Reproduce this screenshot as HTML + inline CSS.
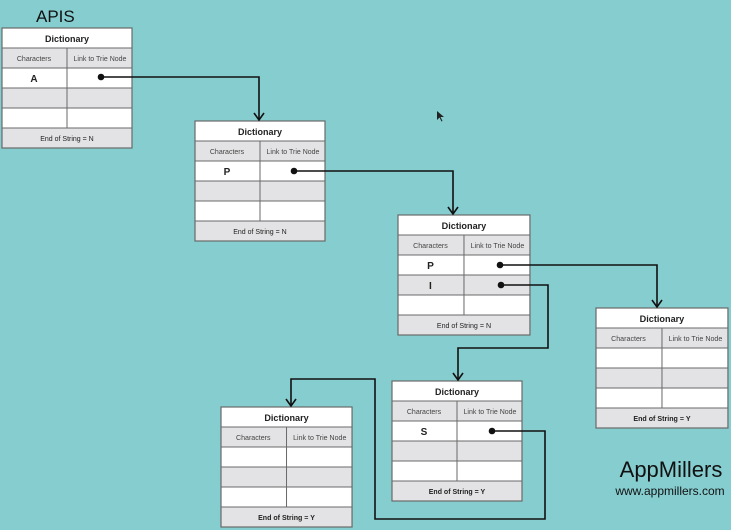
<!DOCTYPE html>
<html><head><meta charset="utf-8"><style>
html,body{margin:0;padding:0;background:#86cdd0;}
svg{display:block;font-family:"Liberation Sans",Arial,sans-serif;}
.t text{fill:#222;text-anchor:middle;}
.h{font-size:9px;font-weight:bold;}
.c{font-size:7px;fill:#444 !important;}
.ch{font-size:10px;font-weight:bold;}
.f{font-size:7px;}
.fb{font-size:7px;font-weight:bold;}
</style></head><body>
<svg width="731" height="530" viewBox="0 0 731 530">
<rect width="731" height="530" fill="#86cdd0"/>
<defs>
<g id="grid130">
<rect x="0" y="0" width="130" height="20" fill="#fff"/>
<rect x="0" y="20" width="130" height="20" fill="#e3e3e5"/>
<rect x="0" y="40" width="130" height="20" fill="#fff"/>
<rect x="0" y="60" width="130" height="20" fill="#e3e3e5"/>
<rect x="0" y="80" width="130" height="20" fill="#fff"/>
<rect x="0" y="100" width="130" height="20" fill="#e3e3e5"/>
<path d="M0 20H130M0 40H130M0 60H130M0 80H130M0 100H130M65 20V100" stroke="#6a6a6a" stroke-width="1" fill="none"/>
<rect x="0" y="0" width="130" height="120" fill="none" stroke="#6a6a6a" stroke-width="1.2"/>
</g>
</defs>
<text x="36" y="22" font-size="17" fill="#111">APIS</text>

<g class="t" transform="translate(2,28)"><use href="#grid130"/>
<text class="h" x="65" y="14">Dictionary</text><text class="c" x="32" y="33">Characters</text><text class="c" x="98" y="33">Link to Trie Node</text>
<text class="ch" x="32" y="54">A</text><text class="f" x="65" y="113">End of String = N</text></g>

<g class="t" transform="translate(195,121)"><use href="#grid130"/>
<text class="h" x="65" y="14">Dictionary</text><text class="c" x="32" y="33">Characters</text><text class="c" x="98" y="33">Link to Trie Node</text>
<text class="ch" x="32" y="54">P</text><text class="f" x="65" y="113">End of String = N</text></g>

<g class="t" transform="translate(398,215) scale(1.015,1)"><use href="#grid130"/>
<text class="h" x="65" y="14">Dictionary</text><text class="c" x="32" y="33">Characters</text><text class="c" x="98" y="33">Link to Trie Node</text>
<text class="ch" x="32" y="54">P</text><text class="ch" x="32" y="74">I</text><text class="f" x="65" y="113">End of String = N</text></g>

<g class="t" transform="translate(596,308) scale(1.015,1)"><use href="#grid130"/>
<text class="h" x="65" y="14">Dictionary</text><text class="c" x="32" y="33">Characters</text><text class="c" x="98" y="33">Link to Trie Node</text>
<text class="fb" x="65" y="113">End of String = Y</text></g>

<g class="t" transform="translate(392,381)"><use href="#grid130"/>
<text class="h" x="65" y="14">Dictionary</text><text class="c" x="32" y="33">Characters</text><text class="c" x="98" y="33">Link to Trie Node</text>
<text class="ch" x="32" y="54">S</text><text class="fb" x="65" y="113">End of String = Y</text></g>

<g class="t" transform="translate(221,407) scale(1.008,1)"><use href="#grid130"/>
<text class="h" x="65" y="14">Dictionary</text><text class="c" x="32" y="33">Characters</text><text class="c" x="98" y="33">Link to Trie Node</text>
<text class="fb" x="65" y="113">End of String = Y</text></g>

<g stroke="#111" stroke-width="1.6" fill="none">
<path d="M101 77H259V120"/>
<path d="M294 171H453V214"/>
<path d="M500 265H657V307"/>
<path d="M501 285H548V348H458V380"/>
<path d="M492 431H545V519H375V379H291V406"/>
<path d="M254 113L259 120L264 113M448 207L453 214L458 207M652 300L657 307L662 300M453 373L458 380L463 373M286 399L291 406L296 399"/>
</g>
<g fill="#111">
<circle cx="101" cy="77" r="3.3"/><circle cx="294" cy="171" r="3.3"/><circle cx="500" cy="265" r="3.3"/><circle cx="501" cy="285" r="3.3"/><circle cx="492" cy="431" r="3.3"/>
</g>
<path d="M437 111L437 120L439.5 117.5L441.5 121.5L442.5 121L440.5 117L444 117Z" fill="#222"/>
<text x="671" y="477" font-size="22" text-anchor="middle" fill="#111">AppMillers</text>
<text x="670" y="495" font-size="12" text-anchor="middle" fill="#111">www.appmillers.com</text>
</svg>
</body></html>
